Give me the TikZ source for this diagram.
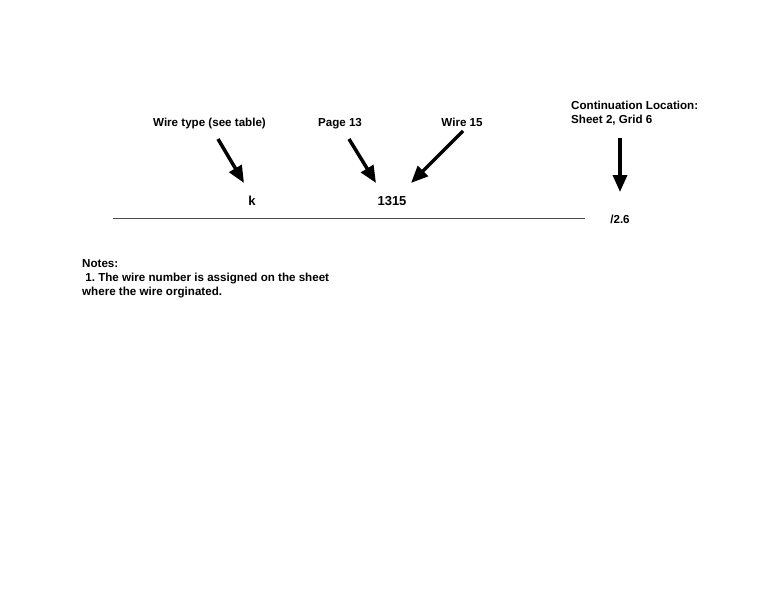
\documentclass[tikz,border=0pt]{standalone}
\usepackage{fontspec}
\setmainfont{Liberation Sans}
\usetikzlibrary{arrows.meta}
\frenchspacing
\begin{document}
\begin{tikzpicture}[x=1pt,y=-1pt,
  lbl/.style={font=\bfseries\fontsize{11.6}{13.8}\selectfont, inner sep=0pt, anchor=base},
  big/.style={font=\bfseries\fontsize{13}{15}\selectfont, inner sep=0pt, anchor=base},
  ptr/.style={line width=3.5pt, -{Triangle[length=17pt,width=14pt]}}]
\useasboundingbox (0,0) rectangle (768,594);
\node[lbl] (wt) at (209.5,126.5) {Wire type (see table)};
\node[lbl] (pg) at (340,126.5) {Page 13};
\node[lbl] (wn) at (462,126.5) {Wire 15};
\node[lbl, align=left, anchor=base west] (cl) at (571,123.5) {Continuation Location:\\Sheet 2, Grid 6};
\node[big] (k) at (252,205) {k};
\node[big] (num) at (392,205) {1315};
\node[lbl] (ref) at (620,223) {/2.6};
\coordinate (a1s) at (218,139); \coordinate (a1e) at (244,183);
\coordinate (a2s) at (349,139); \coordinate (a2e) at (376,183);
\coordinate (a3s) at (463,131); \coordinate (a3e) at (411,183);
\coordinate (a4s) at (620,138); \coordinate (a4e) at (620,192);
\draw[ptr] (a1s) -- (a1e);
\draw[ptr] (a2s) -- (a2e);
\draw[ptr] (a3s) -- (a3e);
\draw[ptr] (a4s) -- (a4e);
\coordinate (wl) at (113,218.3); \coordinate (wr) at (585,218.3);
\draw[line width=1pt, black!70] (wl) -- (wr);
\node[lbl, align=left, anchor=base west] (notes) at (82,295) {Notes:\\\ 1. The wire number is assigned on the sheet\\where the wire orginated.};
\end{tikzpicture}
\end{document}
